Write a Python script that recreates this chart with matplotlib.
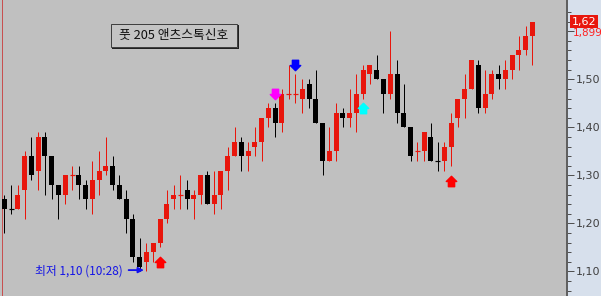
import matplotlib
matplotlib.use('Agg')
import matplotlib.pyplot as plt
from matplotlib.path import Path
from matplotlib.patches import Rectangle
from matplotlib.ticker import FixedLocator, FuncFormatter
from matplotlib.transforms import offset_copy, blended_transform_factory
import numpy as np

# 풋 205 (put option) intraday candles
opens = [1.25, 1.23, 1.23, 1.27, 1.34, 1.31, 1.38, 1.34, 1.28, 1.26,
         1.30, 1.30, 1.28, 1.25, 1.29, 1.31, 1.32, 1.28, 1.25, 1.21,
         1.13, 1.12, 1.14, 1.16, 1.21, 1.25, 1.26, 1.27, 1.25, 1.26,
         1.30, 1.24, 1.26, 1.31, 1.34, 1.37, 1.34, 1.36, 1.37, 1.42,
         1.44, 1.41, 1.47, 1.47, 1.46, 1.49, 1.46, 1.41, 1.33, 1.35,
         1.43, 1.42, 1.43, 1.47, 1.51, 1.52, 1.50, 1.47, 1.51, 1.43,
         1.40, 1.35, 1.35, 1.38, 1.33, 1.33, 1.36, 1.42, 1.46, 1.48,
         1.53, 1.44, 1.47, 1.51, 1.50, 1.52, 1.55, 1.56, 1.59]
highs = [1.26, 1.28, 1.28, 1.35, 1.38, 1.39, 1.39, 1.34, 1.28, 1.30,
         1.32, 1.32, 1.29, 1.33, 1.35, 1.38, 1.34, 1.30, 1.27, 1.22,
         1.17, 1.16, 1.16, 1.21, 1.27, 1.28, 1.30, 1.29, 1.27, 1.30,
         1.31, 1.31, 1.31, 1.36, 1.40, 1.38, 1.37, 1.40, 1.42, 1.45,
         1.45, 1.48, 1.53, 1.51, 1.50, 1.50, 1.52, 1.41, 1.40, 1.45,
         1.44, 1.48, 1.51, 1.53, 1.53, 1.55, 1.50, 1.60, 1.54, 1.49,
         1.40, 1.37, 1.39, 1.41, 1.37, 1.37, 1.43, 1.46, 1.51, 1.54,
         1.54, 1.52, 1.52, 1.53, 1.54, 1.55, 1.59, 1.61, 1.62]
lows = [1.18, 1.22, 1.23, 1.21, 1.29, 1.27, 1.26, 1.25, 1.21, 1.24,
        1.27, 1.25, 1.23, 1.22, 1.26, 1.30, 1.27, 1.25, 1.18, 1.12,
        1.10, 1.10, 1.12, 1.15, 1.20, 1.23, 1.23, 1.23, 1.21, 1.24,
        1.24, 1.22, 1.23, 1.27, 1.34, 1.31, 1.31, 1.34, 1.33, 1.40,
        1.38, 1.39, 1.46, 1.45, 1.43, 1.44, 1.41, 1.30, 1.33, 1.33,
        1.40, 1.40, 1.39, 1.46, 1.49, 1.50, 1.43, 1.46, 1.41, 1.40,
        1.33, 1.33, 1.33, 1.33, 1.31, 1.31, 1.32, 1.40, 1.42, 1.48,
        1.43, 1.43, 1.46, 1.48, 1.48, 1.50, 1.52, 1.55, 1.53]
closes = [1.23, 1.23, 1.26, 1.34, 1.30, 1.38, 1.34, 1.28, 1.26, 1.30,
          1.30, 1.28, 1.25, 1.29, 1.31, 1.32, 1.28, 1.25, 1.21, 1.13,
          1.11, 1.14, 1.16, 1.21, 1.24, 1.26, 1.26, 1.25, 1.26, 1.30,
          1.24, 1.26, 1.31, 1.34, 1.37, 1.34, 1.35, 1.37, 1.42, 1.44,
          1.41, 1.47, 1.47, 1.47, 1.48, 1.46, 1.41, 1.33, 1.35, 1.43,
          1.42, 1.43, 1.47, 1.52, 1.53, 1.50, 1.47, 1.51, 1.43, 1.40,
          1.34, 1.35, 1.39, 1.33, 1.33, 1.36, 1.41, 1.46, 1.48, 1.54,
          1.44, 1.47, 1.51, 1.50, 1.52, 1.55, 1.56, 1.59, 1.62]
black_doji = [1, 64]          # dojis drawn in the "down" colour

# signal arrows: (candle index, direction, colour)
signals = [(23, 'up', '#ff0000'), (40, 'down', '#ff00ff'), (43, 'down', '#0000ff'),
           (53, 'up', '#00ffff'), (66, 'up', '#ff0000')]

low_idx, low_val, low_time = 20, 1.10, '10:28'
last_price = 1.62
ref_label = '1,899'
major_ticks = [1.10, 1.20, 1.30, 1.40, 1.50, 1.60]
title = '풋 205 앤츠스톡신호'

UP = '#e8160c'
DOWN = '#000000'
BG = '#c0c0c0'
PANEL = '#d7e0ec'
KR = ['Noto Sans CJK KR', 'DejaVu Sans']

fig = plt.figure(figsize=(6.01, 2.96), dpi=100)
fig.patch.set_facecolor(PANEL)
ax = fig.add_axes([0, 0, 567 / 601, 1])
ax.set_facecolor(BG)

o = np.array(opens); h = np.array(highs); l = np.array(lows); c = np.array(closes)
x = np.arange(len(c))
cols = np.where(c > o, UP, DOWN)
doji = np.isclose(c, o)
cols[doji] = UP
cols[black_doji] = DOWN

px = 0.72  # one pixel in points
ax.vlines(x, l, h, colors=cols, linewidth=1.0 * px, zorder=2)
body = ~doji
ax.bar(x[body], np.abs(c - o)[body], bottom=np.minimum(o, c)[body], width=0.74,
       color=cols[body], linewidth=0, zorder=3)
ax.hlines(c[doji], x[doji] - 0.37, x[doji] + 0.37, colors=cols[doji],
          linewidth=1.2 * px, zorder=3)

# block arrow markers
down_arrow = Path([(-0.6, 1), (0.6, 1), (0.6, 0), (1, 0), (0, -1), (-1, 0), (-0.6, 0), (-0.6, 1)],
                  [Path.MOVETO] + [Path.LINETO] * 6 + [Path.CLOSEPOLY])
up_arrow = Path([(-0.6, -1), (0.6, -1), (0.6, 0), (1, 0), (0, 1), (-1, 0), (-0.6, 0), (-0.6, -1)],
                [Path.MOVETO] + [Path.LINETO] * 6 + [Path.CLOSEPOLY])
for i, d, colr in signals:
    if d == 'down':
        ax.plot(i, h[i], marker=down_arrow, markersize=7.5, color=colr, zorder=4,
                transform=offset_copy(ax.transData, fig, y=6.5, units='points'))
    else:
        gap = 6.5 if colr == '#00ffff' else 10.7
        ax.plot(i, l[i], marker=up_arrow, markersize=7.5, color=colr, zorder=4,
                transform=offset_copy(ax.transData, fig, y=-gap, units='points'))

# day low marker
ax.annotate('', xy=(low_idx, low_val), xycoords=offset_copy(ax.transData, fig, x=3, y=1, units='points'),
            xytext=(-11, 0), textcoords='offset points',
            arrowprops=dict(arrowstyle='-|>', color='#1010ee', lw=1.3, mutation_scale=8,
                            shrinkA=0, shrinkB=0), zorder=5)
ax.annotate(f'최저 {low_val:.2f} ({low_time})'.replace('.', ','), xy=(low_idx, low_val),
            xytext=(-12.5, 0.5), textcoords='offset points', ha='right', va='center',
            color='#1414e6', fontsize=8.5, family=KR)

ax.set_xlim(-0.635, 83.1)
ax.set_ylim(1.049, 1.665)

# left marker line
ax.plot([0.0027, 0.0027], [0, 1], transform=ax.transAxes, color='#c85050', lw=1.0 * px)

# right price axis
for s in ['left', 'top', 'bottom']:
    ax.spines[s].set_visible(False)
ax.spines['right'].set_color('#606060')
ax.spines['right'].set_linewidth(2 * px)
ax.set_xticks([])
ax.yaxis.tick_right()
ax.yaxis.set_major_locator(FixedLocator(major_ticks))
ax.yaxis.set_minor_locator(FixedLocator(np.round(np.arange(1.06, 1.66, 0.02), 2)))
ax.yaxis.set_major_formatter(FuncFormatter(
    lambda v, p: '' if v > 1.55 else f'{v:.2f}'.replace('.', ',')))
ax.tick_params(axis='y', which='major', length=7 * px, width=1 * px, color='#505050',
               labelsize=8, labelcolor='#404040', pad=1)
ax.tick_params(axis='y', which='minor', length=4 * px, width=1 * px, color='#505050')

tr = blended_transform_factory(ax.transAxes, ax.transData)
ax.text(1.008, last_price, f'{last_price:.2f}'.replace('.', ','), transform=tr,
        ha='left', va='center', color='white', fontsize=8,
        bbox=dict(boxstyle='square,pad=0.15', fc='#e8160c', ec='none'), clip_on=False)
ax.text(1.011, 1.597, ref_label, transform=tr, ha='left', va='center',
        color='#ff2020', fontsize=7.5, clip_on=False)

# title button
W, H = 601, 296
fig.patches.append(Rectangle((111 / W, 1 - 47 / H), 126 / W, 23 / H, transform=fig.transFigure,
                             fc='#c4c4c4', ec='#404040', lw=1 * px))
fig.lines.append(plt.Line2D([112 / W, 238 / W], [1 - 48 / H, 1 - 48 / H],
                            transform=fig.transFigure, color='#202020', lw=1 * px))
fig.lines.append(plt.Line2D([238 / W, 238 / W], [1 - 48 / H, 1 - 25 / H],
                            transform=fig.transFigure, color='#202020', lw=1 * px))
fig.text(174 / W, 1 - 35.5 / H, title, ha='center', va='center', fontsize=9.2,
         color='#101010', family=KR)

fig.savefig('out.png', dpi=100, facecolor=fig.get_facecolor())
